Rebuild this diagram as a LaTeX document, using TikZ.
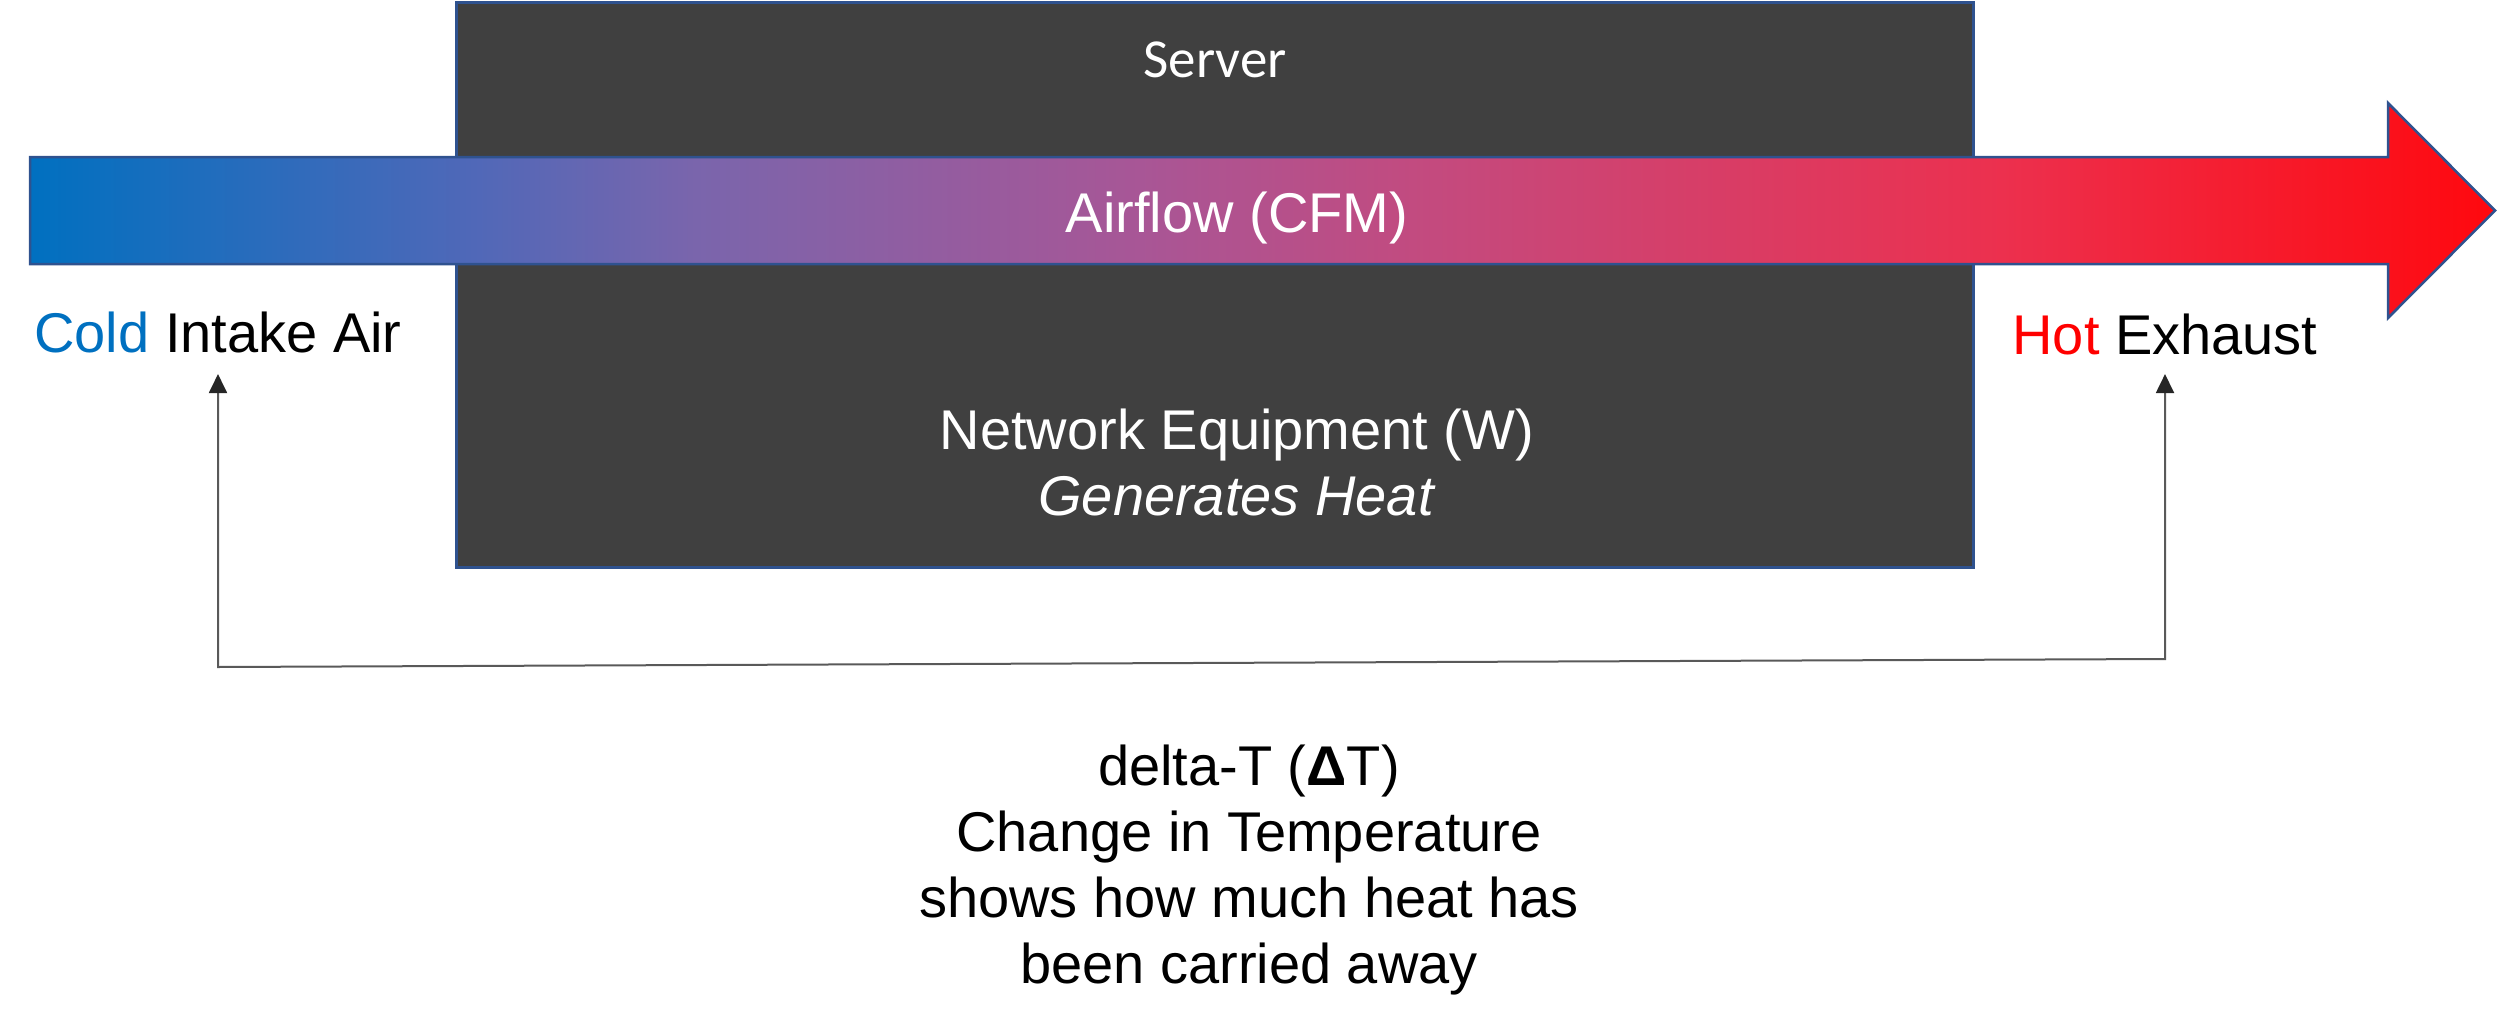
\documentclass[tikz,border=0pt]{standalone}
\usepackage{fontspec}
\setmainfont{Liberation Sans}
\newfontfamily\calfont{Carlito}
\usetikzlibrary{arrows.meta}
\definecolor{boxfill}{HTML}{404040}
\definecolor{edgeblue}{HTML}{2F528F}
\definecolor{coldblue}{HTML}{0070C0}
\definecolor{hotred}{HTML}{FF0000}
\definecolor{linegray}{HTML}{595959}
\definecolor{tipdark}{HTML}{262626}
\definecolor{ga}{RGB}{80,104,184}
\definecolor{gb}{RGB}{122,101,172}
\definecolor{gc}{RGB}{168,86,150}
\definecolor{gd}{RGB}{196,74,126}
\definecolor{ge}{RGB}{236,48,78}
\definecolor{gf}{RGB}{255,8,14}
\pgfdeclarehorizontalshading{airgrad}{100bp}{color(0bp)=(coldblue); color(25bp)=(coldblue); color(34bp)=(ga); color(38.5bp)=(gb); color(47.5bp)=(gc); color(53.5bp)=(gd); color(65bp)=(ge); color(75bp)=(gf); color(100bp)=(gf)}
\tikzset{
  lbl/.style={inner sep=0pt, anchor=base, font=\fontsize{22.4}{26.4}\selectfont},
  whitelbl/.style={lbl, text=white},
  serverbox/.style={draw=edgeblue, line width=1.2pt, fill=boxfill, inner sep=0pt, minimum width=606.4pt, minimum height=225.6pt},
  flowarrow/.style={draw=edgeblue, line width=1pt, shading=airgrad},
  conn/.style={draw=linegray, line width=0.8pt, {Triangle[length=7.6pt,width=7.2pt,color=tipdark]}-{Triangle[length=7.6pt,width=7.2pt,color=tipdark]}}
}
\begin{document}
\begin{tikzpicture}[x=0.4pt,y=-0.4pt]
\useasboundingbox (0,0) rectangle (2500,1033);
% server box
\node[serverbox] (box) at (1215,285) {};
\node[whitelbl, font=\calfont\fontsize{22}{26}\selectfont] (server) at (1215,77) {Server};
% airflow arrow
\path[flowarrow] (30,157) -- (2388,157) -- (2388,103) -- (2495,210.5) -- (2388,318) -- (2388,264) -- (30,264) -- cycle;
\node[whitelbl] (airflow) at (1237,232) {Airflow (CFM)};
% equipment text
\node[whitelbl, align=center] (equip) at (1237,515) {Network Equipment (W)\\\textit{Generates Heat}};
% side labels
\node[lbl] (cold) at (218,352) {{\color{coldblue}Cold} Intake Air};
\node[lbl] (hot) at (2165,354) {{\color{hotred}Hot} Exhaust};
% delta-T connector
\coordinate (bl) at (219,667);
\coordinate (br) at (2166,659);
\draw[conn] ([yshift=-8.4pt]cold.south) -- (cold.south |- bl) -- (hot.south |- br) -- ([yshift=-7.6pt]hot.south);
% explanation
\node[lbl, align=center] (dt) at (1249,983) {delta-T (\textbf{Δ}T)\\Change in Temperature\\shows how much heat has\\been carried away};
\end{tikzpicture}
\end{document}
